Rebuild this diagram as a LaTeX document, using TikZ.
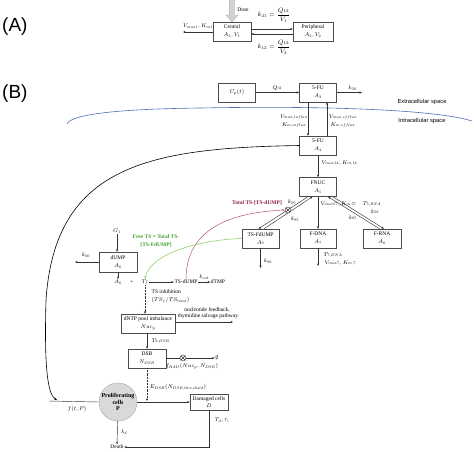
\documentclass[tikz,border=0pt]{standalone}
\usepackage{amssymb}
\usepackage{fontspec}
\setmainfont{Liberation Serif}
\newfontfamily\panelfont{Liberation Sans}
\DeclareFontShape{OML}{cmm}{m}{it}{<->cmmi7}{}
\DeclareFontShape{OMS}{cmsy}{m}{n}{<->cmsy7}{}
\DeclareFontShape{OT1}{cmr}{m}{n}{<->cmr7}{}
\usetikzlibrary{arrows.meta,calc}
\newcommand\fsz{\fontsize{5.5}{6.5}\selectfont}
\newcommand\fszb{\fontsize{5.5}{8}\selectfont}
\definecolor{lnc}{HTML}{333333}
\definecolor{tsred}{HTML}{8E1B45}
\definecolor{tscurve}{HTML}{B5567A}
\definecolor{tsgreen}{HTML}{3FA02A}
\definecolor{fcurve}{HTML}{7FCC55}
\definecolor{memb}{HTML}{4A70B5}
\begin{document}
\begin{tikzpicture}[x=1pt,y=-1pt,
  every node/.style={font=\fsz,inner sep=0.5pt},
  bx/.style={draw=black!70,line width=0.45pt,align=center,minimum height=19pt,font=\fszb,inner sep=1pt},
  arr/.style={draw=lnc,line width=0.45pt,-{Stealth[length=2.6pt,width=2.2pt]}},
  ln/.style={draw=lnc,line width=0.45pt},
  dotarr/.style={arr,densely dotted},
  otim/.style={circle,draw=lnc,line width=0.4pt,minimum size=6pt,inner sep=0pt,fill=white},
  plabel/.style={font=\panelfont\fontsize{19}{21}\selectfont,anchor=west,inner sep=0pt},
  spc/.style={font=\panelfont\fontsize{5.8}{7}\selectfont}]
\useasboundingbox (0,0) rectangle (474,451);
\node[plabel] (labA) at (2,27) {(A)};
\node[plabel] (labB) at (2,94) {(B)};
% ---------------- Panel A
\node[bx,minimum width=38pt] (central) at (232,31.5) {Central\\$A_1, V_1$};
\node[bx,minimum width=40pt] (periph) at (313,31.5) {Peripheral\\$A_2, V_2$};
\draw[fill=gray!35,draw=gray!65,line width=0.4pt] (229.3,0) -- (234.7,0) -- (234.7,15) -- (238,15) -- (central.north) -- (226,15) -- (229.3,15) -- cycle;
\node (dose) at (243,10) {Dose};
\node[font=\fontsize{6.3}{7}\selectfont] (k21) at (274,15) {$\displaystyle k_{21}=\frac{Q_{12}}{V_1}$};
\node[font=\fontsize{6.3}{7}\selectfont] (k12) at (274,47) {$\displaystyle k_{12}=\frac{Q_{12}}{V_2}$};
\draw[arr] ($(central.east)+(0,-2.5)$) -- ($(periph.west)+(0,-2.5)$);
\draw[arr] ($(periph.west)+(0,2.5)$) -- ($(central.east)+(0,2.5)$);
\coordinate (elimA) at (183,32);
\draw[arr] (central.west |- elimA) -- (elimA);
\node (vm1) at (198,26) {$V_{max1}, K_{m1}$};
% ---------------- Panel B
\node[bx,minimum width=37pt] (cp) at (237,92.5) {$C_p(t)$};
\node[bx,minimum width=37pt] (fu3) at (318,92.5) {5-FU\\$A_3$};
\draw[arr] (cp) -- (fu3) node[midway,above=1.5pt] {$Q_{31}$};
\coordinate (k30e) at (362,92.5);
\draw[arr] (fu3) -- (k30e) node[midway,above=1.5pt,xshift=3pt] {$k_{30}$};
\draw[memb,line width=0.6pt] (67,124) .. controls (71,114) and (120,109) .. (200,108) .. controls (300,106) and (430,108) .. (472,121);
\node[spc] (extra) at (422,102) {Extracellular space};
\node[spc] (intra) at (422,121) {Intracellular space};
\node[bx,minimum width=37pt] (fu4) at (318,145.5) {5-FU\\$A_4$};
\draw[arr] ($(fu3.south)+(-10,0)$) -- ($(fu4.north)+(-10,0)$);
\draw[arr] ($(fu4.north)+(9,0)$) -- ($(fu3.south)+(9,0)$);
\node[align=center,font=\fszb] (infl) at (294,121) {$V_{max,influx}$\\$K_{m,influx}$};
\node[align=center,font=\fszb] (effl) at (343,121) {$V_{max,efflux}$\\$K_{m,efflux}$};
\node[bx,minimum width=37pt] (fnuc) at (318,187) {FNUC\\$A_5$};
\draw[arr] (fu4) -- (fnuc);
\node[anchor=west] (v14) at (321,163) {$V_{max14}, K_{m,14}$};
\node[bx,minimum width=37pt] (tsf) at (260.5,238.5) {TS-FdUMP\\$A_9$};
\node[bx,minimum width=36pt] (fdna) at (318,238.5) {F-DNA\\$A_7$};
\node[bx,minimum width=38pt] (frna) at (382,238.5) {F-RNA\\$A_8$};
% FNUC <-> TS-FdUMP
\draw[arr] ($(fnuc.south)+(-10,0)$) -- ($(tsf.north)+(-2,0)$);
\draw[arr] ($(tsf.north)+(3.5,0)$) -- ($(fnuc.south)+(-5.5,0)$);
\node[otim] (ox1) at (288,210) {};
\draw[ln] (ox1.north west) -- (ox1.south east) (ox1.north east) -- (ox1.south west);
\node (k59) at (292,202) {$k_{59}$};
\node (k95) at (295,219) {$k_{95}$};
\node[font=\bfseries\fsz,text=tsred] (totts) at (257,203) {Total TS-[TS-dUMP]};
% FNUC <-> F-RNA
\draw[arr] ($(fnuc.south)+(15,0)$) -- ($(frna.north)+(2,0)$);
\draw[arr] ($(frna.north)+(-2.5,0)$) -- ($(fnuc.south)+(10,0)$);
\node (t5) at (372,204) {$T_{5,RNA}$};
\node (k58) at (375,211.5) {$k_{58}$};
\node (k85) at (353,217.5) {$k_{85}$};
% FNUC -> F-DNA
\draw[arr] (fnuc) -- (fdna);
\node[anchor=west] (v57) at (320,204) {$V_{max57}, K_{m,57}$};
\coordinate (tsfout) at (260.5,268);
\draw[arr] (tsf) -- (tsfout);
\node (k90) at (268,261) {$k_{90}$};
\coordinate (fdnaout) at (318,266);
\draw[arr] (fdna) -- (fdnaout);
\node[anchor=west] (t7) at (323,255) {$T_{7,DNA}$};
\node[anchor=west] (v7) at (324,263) {$V_{max7}, K_{m,7}$};
% ---------------- left part
\node (g1) at (117,231) {$G_1$};
\node[bx,minimum width=38pt,minimum height=20pt] (dump) at (118,262) {dUMP\\$A_6$};
\draw[arr] (g1) -- (g1 |- dump.north);
\coordinate (k60e) at (75,262);
\draw[arr] (dump) -- (k60e);
\node (k60) at (86,255) {$k_{60}$};
\node (a6) at (118,282) {$A_6$};
\draw[arr] (dump.south -| a6) -- (a6);
\node (plus) at (132,282) {+};
\node (tf) at (145,282) {$T_f$};
\node (tsdump) at (186,282) {TS-dUMP};
\draw[arr] (tf) -- (tsdump);
\node (dtmp) at (218,282) {dTMP};
\draw[arr] (tsdump) -- (dtmp) node[midway,above=1.5pt] {$k_{cat}$};
\node[anchor=west] (tsinh) at (151,292) {TS inhibition};
\node[anchor=west] (tsratio) at (151,300.5) {$(TS_f/TS_{total})$};
\node[bx,minimum width=54pt] (dntp) at (148,323.5) {dNTP pool imbalance\\$Nuc_p$};
\draw[dotarr] (tf) -- (tf |- dntp.north);
\coordinate (nucfe) at (233,322);
\draw[arr] (dntp.east |- nucfe) -- (nucfe);
\node (nf1) at (207,310) {nucleotide feedback,};
\node (nf2) at (208,316.5) {thymidine salvage pathway};
\node[bx,minimum width=38pt] (dsb) at (147,358.5) {DSB\\$N_{DSB}$};
\draw[arr] (dsb.north |- dntp.south) -- (dsb.north);
\node[anchor=west] (t2dsb) at (151,341) {$T_{2,DSB}$};
\node[otim] (ox2) at (183,358) {};
\draw[ln] (ox2.north west) -- (ox2.south east) (ox2.north east) -- (ox2.south west);
\draw[ln] (dsb.east |- ox2) -- (ox2);
\node (empt) at (217,358) {$\emptyset$};
\draw[arr] (ox2) -- (empt);
\node (frad) at (192,366) {$f_{RAD}(Nuc_p, N_{DSB})$};
% cells
\node[circle,draw=gray!70,fill=gray!30,minimum size=38pt,inner sep=0pt,align=center,font=\bfseries\fontsize{6}{6.5}\selectfont] (prolif) at (118,402) {Proliferating\\cells\\P};
\node[bx,minimum width=38pt,minimum height=16pt,font=\fontsize{5.5}{7}\selectfont] (damaged) at (209,402) {Damaged cells\\$D$};
\draw[arr] (prolif) -- (damaged);
\coordinate (dsbhit) at (147,401);
\draw[dotarr] (dsb) -- (dsbhit);
\node (edsb) at (178,387) {$E_{DSB}(N_{DSB,threshold})$};
\node (death) at (117,447) {Death};
\draw[arr] (prolif) -- (death);
\node (lamd) at (124,432) {$\lambda_d$};
\draw[arr] (damaged.south) |- (death.east);
\node (tdti) at (222,420) {$T_d,\tau_i$};
\coordinate (fin) at (49,401);
\draw[ln] (fin) -- (prolif.west);
\node (ftp) at (77,409) {$f(t,P)$};
% curves
\coordinate (fcurveend) at (57,400);
\draw[arr,draw=black,line width=0.6pt] (fu4.west) .. controls (150,148) and (55,165) .. (46,300) .. controls (44,370) and (48,395) .. (fcurveend);
\draw[arr,draw=tscurve,line width=0.5pt] (tsdump.north) .. controls (186,235) and (220,213) .. (ox1.west);
\draw[arr,draw=fcurve,line width=0.5pt] (tsf.west) .. controls (195,240) and (150,255) .. (tf.north);
\node[font=\bfseries\fszb,text=tsgreen,align=center] (freets) at (156,241) {Free TS = Total TS-\\{}[TS-FdUMP]};
\end{tikzpicture}
\end{document}
